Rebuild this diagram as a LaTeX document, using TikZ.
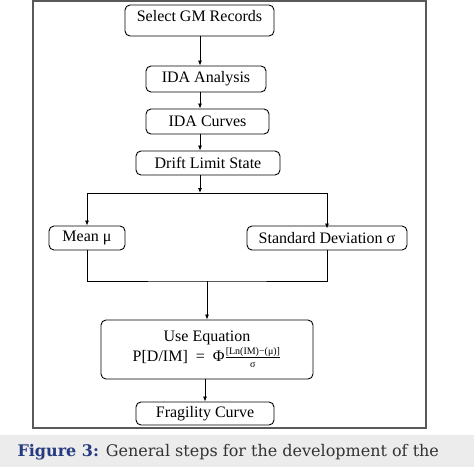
\documentclass[tikz,border=0pt]{standalone}
\usepackage{fontspec}
\setmainfont{Liberation Serif}
\newfontfamily\capfont{DejaVu Serif}
\usetikzlibrary{arrows.meta}
\definecolor{capblue}{RGB}{38,58,128}
\definecolor{capgray}{RGB}{236,236,236}
\tikzset{
  stepbox/.style={draw, rounded corners=5pt, line width=0.9pt, inner sep=2pt,
    font=\fontsize{16}{19}\selectfont},
  link/.style={line width=0.8pt},
}

\begin{document}
\begin{tikzpicture}[x=1pt, y=-1pt, >={Latex[length=5pt,width=4pt]}]
  \useasboundingbox (0,0) rectangle (474,467);
  % frame and caption bar
  \draw[gray!70!black, line width=1.2pt] (33,1) rectangle (426,428);
  \fill[capgray] (0,435) rectangle (474,467);
  \node[anchor=west, font=\capfont\fontsize{16}{18}\selectfont, text=black!80] (cap) at (14,452)
    {\textcolor{capblue}{\bfseries Figure 3:} General steps for the development of the};

  % steps
  \node[stepbox, minimum width=149pt, minimum height=31pt, text depth=9pt] (sel) at (199.5,20.5) {Select GM Records};
  \node[stepbox, minimum width=120pt, minimum height=26pt] (ida) at (206,79) {IDA Analysis};
  \node[stepbox, minimum width=123pt, minimum height=25pt] (curv) at (207.5,121.5) {IDA Curves};
  \node[stepbox, minimum width=144pt, minimum height=24pt] (drift) at (208,163) {Drift Limit State};
  \node[stepbox, minimum width=76pt, minimum height=24pt] (mean) at (87,238) {Mean μ\hspace{10pt}};
  \node[stepbox, minimum width=160pt, minimum height=24pt] (sd) at (327,238) {Standard Deviation σ\hspace{8pt}};
  \node[stepbox, minimum width=212pt, minimum height=59pt, align=center] (eq) at (207,349.5)
    {Use Equation\\[1pt]
     P[D/IM]\enspace=\enspace Φ$\frac{\mbox{\fontsize{10}{11}\selectfont[Ln(IM)−(μ)]}}{\mbox{\fontsize{10}{11}\selectfont σ}}$};
  \node[stepbox, minimum width=138pt, minimum height=23pt] (frag) at (205,413.5) {Fragility Curve\hspace{8pt}};

  \coordinate (split) at (200,193);
  \coordinate (join) at (207,281);

  % connectors
  \draw[link, ->] (sel.south -| split) -- (ida.north -| split);
  \draw[link, ->] (ida.south -| split) -- (curv.north -| split);
  \draw[link, ->] (curv.south -| split) -- (drift.north -| split);
  \draw[link, ->] (drift.south -| split) -- (split);
  \draw[link, ->] (split) -| (mean.north);
  \draw[link, ->] (split) -| ([yshift=-3pt]sd.north);
  \draw[link] (mean.south) |- (join) -| (sd.south);
  \draw[link, ->] (join) -- (eq.north);
  \draw[link, ->] (eq.south -| frag.north) -- (frag.north);
\end{tikzpicture}
\end{document}
